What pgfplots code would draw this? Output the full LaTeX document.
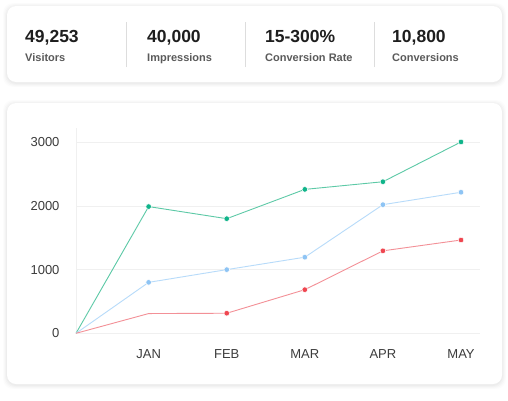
\documentclass[border=0pt]{standalone}
\usepackage{pgfplots}
\pgfplotsset{compat=1.18}
\usepackage{fontspec}
\setmainfont{Liberation Sans}
\definecolor{gmark}{HTML}{10B48A}
\definecolor{gline}{HTML}{5CC9A6}
\definecolor{bmark}{HTML}{8EC4F4}
\definecolor{bline}{HTML}{B7DBFA}
\definecolor{rmark}{HTML}{EF4650}
\definecolor{rline}{HTML}{F39097}
\definecolor{gridc}{HTML}{F0F0F0}
\definecolor{tickc}{HTML}{3C3C3C}
\definecolor{numc}{HTML}{1E1E1E}
\definecolor{labc}{HTML}{5A5A5A}
\definecolor{divc}{HTML}{DDDDDD}
\begin{document}
\begin{tikzpicture}[x=1pt,y=1pt]
% page
\fill[white] (0,0) rectangle (508,400);
% shadows
\foreach \s/\o in {4/0.012,3/0.016,2/0.02,1/0.025}{
  \fill[black,opacity=\o,rounded corners=10pt] (7-\s,318-\s-1) rectangle (502+\s,394+\s-1);
  \fill[black,opacity=\o,rounded corners=10pt] (7-\s,16-\s-1) rectangle (502+\s,297+\s-1);
}
\fill[white,rounded corners=9pt] (7,318) rectangle (502,394);
\fill[white,rounded corners=9pt] (7,16) rectangle (502,297);
% dividers
\foreach \xx in {126,245,374}{\draw[divc,line width=0.8pt] (\xx,333) -- (\xx,378);}
% KPIs
\foreach \xx/\num/\lab in {25/{49,253}/Visitors,147/{40,000}/Impressions,265/{15-300\%}/Conversion Rate,392/{10,800}/Conversions}{
  \node[anchor=base west,inner sep=0pt,text=numc,font=\fontsize{17.5}{20}\selectfont\bfseries] at (\xx,358) {\num};
  \node[anchor=base west,inner sep=0pt,text=labc,font=\fontsize{11}{13}\selectfont\bfseries] at (\xx,338) {\lab};
}
\begin{axis}[
  at={(76pt,66.7pt)}, anchor=south west,
  scale only axis, width=404pt, height=205.3pt,
  xmin=0.07, xmax=5.243, ymin=0, ymax=3224,
  axis lines*=left,
  x axis line style={draw=none},
  y axis line style={draw=gridc,line width=0.8pt},
  xtick={1,2,3,4,5},
  xticklabels={JAN,FEB,MAR,APR,MAY},
  ytick={0,1000,2000,3000},
  ymajorgrids, grid style={gridc,line width=0.8pt},
  major tick length=0pt,
  tick label style={text=tickc,font=\fontsize{13}{15}\selectfont},
  xticklabel style={yshift=-13pt},
  yticklabel style={xshift=-13pt},
  /pgf/number format/assume math mode=true,
  /pgf/number format/1000 sep={},
  clip=false,
]
\addplot[gline,line width=0.9pt,mark=*,mark size=2.8pt,mark indices={2,3,4,5,6},mark options={draw=white,fill=gmark,line width=0.5pt}]
  coordinates {(0.07,0) (1,1990) (2,1800) (3,2260) (4,2380) (5,3005)};
\addplot[bline,line width=0.9pt,mark=*,mark size=2.8pt,mark indices={2,3,4,5,6},mark options={draw=white,fill=bmark,line width=0.5pt}]
  coordinates {(0.07,0) (1,800) (2,1000) (3,1195) (4,2020) (5,2215)};
\addplot[rline,line width=0.9pt,mark=*,mark size=2.8pt,mark indices={3,4,5,6},mark options={draw=white,fill=rmark,line width=0.5pt}]
  coordinates {(0.07,0) (1,310) (2,315) (3,685) (4,1295) (5,1465)};
\end{axis}
\end{tikzpicture}
\end{document}
